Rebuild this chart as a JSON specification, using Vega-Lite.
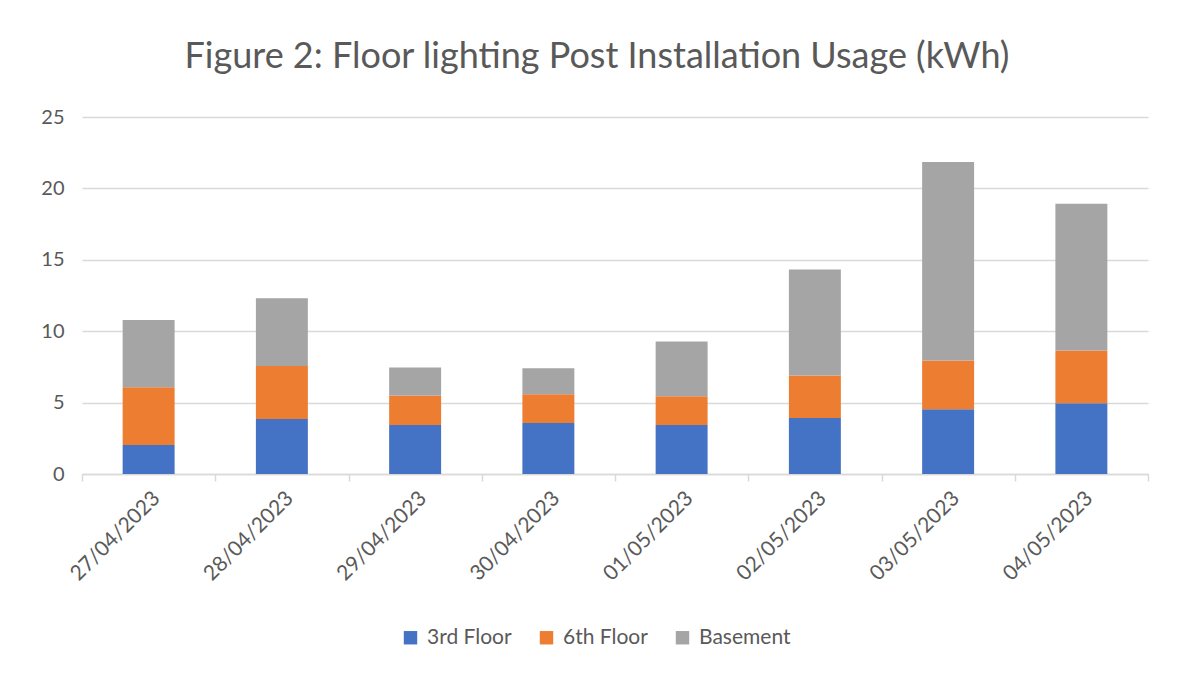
{
  "$schema": "https://vega.github.io/schema/vega-lite/v6.json",
  "width": 1066,
  "height": 357,
  "autosize": {"type": "none"},
  "padding": {"left": 82, "top": 117, "right": 52, "bottom": 218},
  "background": "white",
  "title": {
    "text": "Figure 2: Floor lighting Post Installation Usage (kWh)",
    "anchor": "middle",
    "dx": -18,
    "offset": 31,
    "fontSize": 36,
    "font": "Lato",
    "fontWeight": "normal",
    "color": "#595959"
  },
  "data": {
    "values": [
      {"date": "27/04/2023", "floor": "3rd Floor", "kwh": 2.03},
      {"date": "27/04/2023", "floor": "6th Floor", "kwh": 4.04},
      {"date": "27/04/2023", "floor": "Basement", "kwh": 4.72},
      {"date": "28/04/2023", "floor": "3rd Floor", "kwh": 3.86},
      {"date": "28/04/2023", "floor": "6th Floor", "kwh": 3.71},
      {"date": "28/04/2023", "floor": "Basement", "kwh": 4.74},
      {"date": "29/04/2023", "floor": "3rd Floor", "kwh": 3.43},
      {"date": "29/04/2023", "floor": "6th Floor", "kwh": 2.06},
      {"date": "29/04/2023", "floor": "Basement", "kwh": 1.96},
      {"date": "30/04/2023", "floor": "3rd Floor", "kwh": 3.57},
      {"date": "30/04/2023", "floor": "6th Floor", "kwh": 2.01},
      {"date": "30/04/2023", "floor": "Basement", "kwh": 1.83},
      {"date": "01/05/2023", "floor": "3rd Floor", "kwh": 3.43},
      {"date": "01/05/2023", "floor": "6th Floor", "kwh": 2.01},
      {"date": "01/05/2023", "floor": "Basement", "kwh": 3.84},
      {"date": "02/05/2023", "floor": "3rd Floor", "kwh": 3.93},
      {"date": "02/05/2023", "floor": "6th Floor", "kwh": 2.96},
      {"date": "02/05/2023", "floor": "Basement", "kwh": 7.43},
      {"date": "03/05/2023", "floor": "3rd Floor", "kwh": 4.53},
      {"date": "03/05/2023", "floor": "6th Floor", "kwh": 3.41},
      {"date": "03/05/2023", "floor": "Basement", "kwh": 13.91},
      {"date": "04/05/2023", "floor": "3rd Floor", "kwh": 4.95},
      {"date": "04/05/2023", "floor": "6th Floor", "kwh": 3.69},
      {"date": "04/05/2023", "floor": "Basement", "kwh": 10.29}
    ]
  },
  "mark": {"type": "bar", "width": {"band": 0.39}},
  "encoding": {
    "x": {
      "field": "date",
      "type": "ordinal",
      "sort": null,
      "title": null,
      "scale": {"paddingInner": 0, "paddingOuter": 0},
      "axis": {
        "labelAngle": -45,
        "labelFontSize": 21,
        "labelPadding": 6,
        "tickBand": "extent",
        "tickSize": 7,
        "tickColor": "#d9d9d9",
        "tickWidth": 1.5,
        "domainColor": "#d9d9d9",
        "domainWidth": 1.5
      }
    },
    "y": {
      "field": "kwh",
      "type": "quantitative",
      "title": null,
      "scale": {"domain": [0, 25]},
      "axis": {
        "values": [0, 5, 10, 15, 20, 25],
        "labelFontSize": 20,
        "labelPadding": 18,
        "ticks": false,
        "domain": false,
        "gridColor": "#d9d9d9",
        "gridWidth": 1.5
      }
    },
    "color": {
      "field": "floor",
      "type": "nominal",
      "title": null,
      "scale": {
        "domain": ["3rd Floor", "6th Floor", "Basement"],
        "range": ["#4472C4", "#ED7D31", "#A5A5A5"]
      },
      "legend": {
        "orient": "none",
        "legendX": 318,
        "legendY": 510,
        "direction": "horizontal",
        "symbolType": "square",
        "symbolSize": 180,
        "symbolStrokeWidth": 0,
        "labelFontSize": 21,
        "labelOffset": 6,
        "columnPadding": 24
      }
    },
    "order": {"field": "floor", "sort": "ascending"}
  },
  "config": {
    "font": "Lato",
    "axis": {"labelColor": "#595959", "labelFont": "Lato"},
    "legend": {"labelColor": "#595959", "labelFont": "Lato"},
    "view": {"stroke": null}
  }
}
